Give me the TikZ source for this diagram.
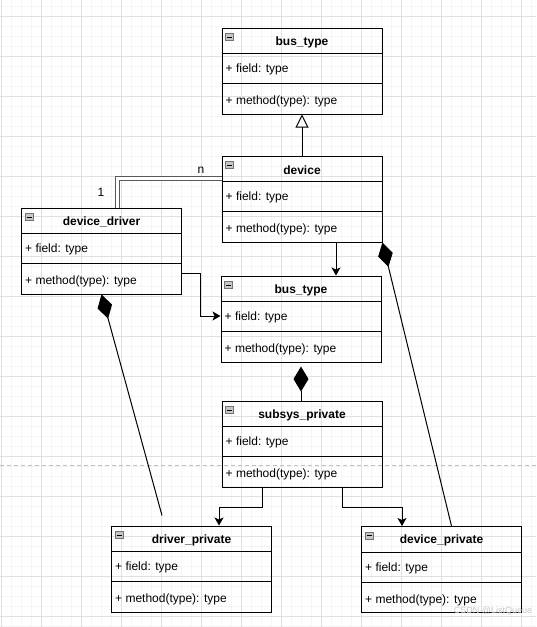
\documentclass[tikz,border=0pt]{standalone}
\usepackage{fontspec}
\setmainfont{Liberation Sans}
\usetikzlibrary{arrows.meta}

% one UML class: name, centre, title
\newcommand{\umlclass}[3]{%
  \node[classbox] (#1) at (#2) {};
  \draw[thin line] ([yshift=-26pt]#1.north west) -- ([yshift=-26pt]#1.north east);
  \draw[thin line] ([yshift=-56pt]#1.north west) -- ([yshift=-56pt]#1.north east);
  \draw[icon] ([xshift=4pt,yshift=-6pt]#1.north west) rectangle ++(8,7);
  \draw[line width=0.8pt] ([xshift=5.5pt,yshift=-9.5pt]#1.north west) -- ++(5,0);
  \node[classtitle] (#1-title) at ([yshift=-14.5pt]#1.north) {#3};
  \node[member] (#1-field) at ([xshift=3pt,yshift=-42pt]#1.north west) {+ field: type};
  \node[member] (#1-method) at ([xshift=3pt,yshift=-74pt]#1.north west) {+ method(type): type};
}

\begin{document}
\begin{tikzpicture}[x=1pt, y=-1pt,
    every node/.style={font=\fontsize{12}{14}\selectfont},
    classbox/.style={draw, line width=1pt, minimum width=160pt, minimum height=86pt, inner sep=0pt},
    thin line/.style={line width=1pt},
    classtitle/.style={font=\fontsize{12}{14}\selectfont\bfseries, inner sep=0pt},
    member/.style={anchor=west, inner sep=1pt},
    icon/.style={draw=black!55, fill=black!22, line width=0.6pt},
    assoc/.style={-{Stealth[length=8pt,width=9pt,inset=2pt]}, line width=1pt},
    inherit/.style={-{Triangle[open,length=13pt,width=13pt]}, line width=1pt},
    compose/.style={{Diamond[length=25pt,width=15pt]}-, line width=1pt},
    link/.style={double=white, double distance=3pt, draw=black!65, line width=1pt},
    minor/.style={draw=black!4, line width=1pt},
    major/.style={draw=black!12, line width=1pt}]
  \useasboundingbox (0,0) rectangle (536,627);
  % grid
  \foreach \x in {1,11,...,531} \draw[minor] (\x,0) -- (\x,627);
  \foreach \y in {6,16,...,626} \draw[minor] (0,\y) -- (536,\y);
  \foreach \x in {1,41,...,521} \draw[major] (\x,0) -- (\x,627);
  \foreach \y in {16,56,...,616} \draw[major] (0,\y) -- (536,\y);
  \draw[draw=black!25, dash pattern=on 4pt off 3pt, line width=1pt] (0,465) -- (536,465);

  % classes
  \umlclass{bustop}{302,71}{bus\_type}
  \umlclass{device}{302,199}{device}
  \umlclass{driver}{101.5,251}{device\_driver}
  \umlclass{busmid}{301,319}{bus\_type}
  \umlclass{subsys}{302,444}{subsys\_private}
  \umlclass{drvpriv}{191.5,569}{driver\_private}
  \umlclass{devpriv}{441.5,569.5}{device\_private}

  % connectors
  \draw[inherit] (device.north) -- (device.north |- bustop.south);
  \draw[link] ([xshift=15.5pt]driver.north) |- ([yshift=21pt]device.west);
  \node (one) at (101,192) {1};
  \node (many) at (201,170) {n};
  \draw[assoc] ([yshift=-22pt]driver.east) -| ([xshift=-20pt,yshift=3pt]busmid.west) -- ([yshift=3pt]busmid.west);
  \draw[assoc] ([xshift=34pt]device.south) -- ([xshift=34pt]device.south |- busmid.north);
  \draw[compose, shorten <=4pt] (busmid.south) -- (busmid.south |- subsys.north);
  \draw[assoc] ([xshift=-40pt]subsys.south) -- ++(0,20) -| ([xshift=27.5pt]drvpriv.north);
  \draw[assoc] ([xshift=40pt]subsys.south) -- ++(0,20) -| ([xshift=-39.5pt]devpriv.north);
  \draw[compose] (driver.south) -- ([xshift=-29.5pt,yshift=10pt]drvpriv.north);
  \draw[compose] (device.south east) -- ([xshift=10pt]devpriv.north);

  \node[text=black!22, inner sep=0pt, font=\fontsize{9}{10}\selectfont] (mark) at (493,611) {CSDN @ListQueue};
\end{tikzpicture}
\end{document}
